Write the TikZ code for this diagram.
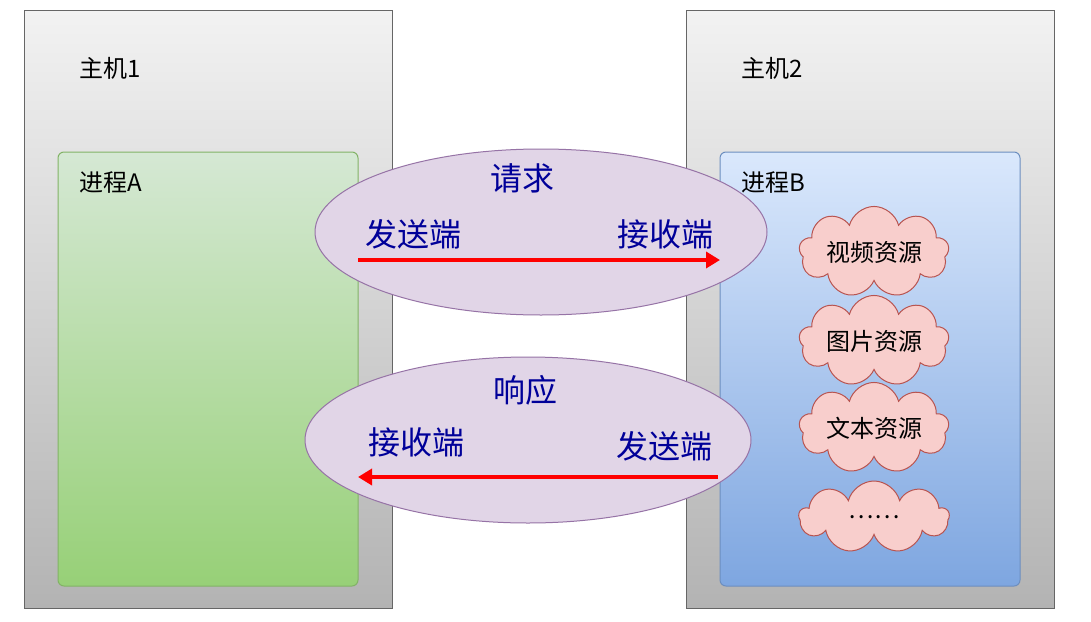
\documentclass[tikz,border=0pt]{standalone}
\usepackage{fontspec}
\setmainfont{Noto Sans CJK SC}
\usetikzlibrary{shapes.geometric,shapes.symbols,arrows.meta}
\definecolor{hostA}{HTML}{F2F2F2}\definecolor{hostB}{HTML}{B3B3B3}
\definecolor{gA}{HTML}{D5E8D4}\definecolor{gB}{HTML}{97D077}\definecolor{gD}{HTML}{82B366}
\definecolor{bA}{HTML}{DAE8FC}\definecolor{bB}{HTML}{7EA6E0}\definecolor{bD}{HTML}{6C8EBF}
\definecolor{eF}{HTML}{E1D5E7}\definecolor{eD}{HTML}{9673A6}
\definecolor{cF}{HTML}{F8CECC}\definecolor{cD}{HTML}{B85450}
\definecolor{txtb}{HTML}{000099}
\tikzset{
 host/.style={draw=black!60,line width=1pt,top color=hostA,bottom color=hostB},
 lbl/.style={font=\fontsize{24}{26}\selectfont,anchor=west},
 big/.style={font=\fontsize{32}{34}\selectfont,text=txtb},
 ell/.style={ellipse,draw=eD,fill=eF,line width=1pt},
 cld/.style={cloud,cloud puffs=9,aspect=2.3,draw=cD,fill=cF,line width=1pt,minimum width=150pt,minimum height=72pt,inner sep=0pt,font=\fontsize{24}{26}\selectfont},
 arr/.style={red,line width=3.5pt,-{Triangle[length=14pt,width=16pt]}}
}
\begin{document}
\begin{tikzpicture}[x=1pt,y=-1pt]
\useasboundingbox (0,0) rectangle (1091,621);
\fill[white] (0,0) rectangle (1091,621);
\draw[host] (24,10) rectangle (392,608);
\draw[host] (686,10) rectangle (1054,608);
\draw[rounded corners=6pt,draw=gD,line width=1pt,top color=gA,bottom color=gB] (58,152) rectangle (358,586);
\draw[rounded corners=6pt,draw=bD,line width=1pt,top color=bA,bottom color=bB] (720,152) rectangle (1020,586);
\node[lbl] (h1) at (76,68) {主机1};
\node[lbl] (h2) at (738,68) {主机2};
\node[lbl] (pa) at (76,183) {进程A};
\node[lbl] (pb) at (738,183) {进程B};
\node[ell,minimum width=452pt,minimum height=166pt] (e1) at (541,232) {};
\node[ell,minimum width=446pt,minimum height=166pt] (e2) at (528,440) {};
\node[big] (q) at (522,178) {请求};
\node[big] (s1) at (413,234) {发送端};
\node[big] (r1) at (665,234) {接收端};
\coordinate (a1s) at (358,260); \coordinate (a1e) at (720,260);
\draw[arr] (a1s) -- (a1e);
\node[big] (x) at (525,390) {响应};
\node[big] (r2) at (416,442) {接收端};
\node[big] (s2) at (664,446) {发送端};
\coordinate (a2s) at (718,477); \coordinate (a2e) at (358,477);
\draw[arr] (a2s) -- (a2e);
\node[cld] (c1) at (874,252) {视频资源};
\node[cld] (c2) at (874,341) {图片资源};
\node[cld] (c3) at (874,428) {文本资源};
\node[cld] (c4) at (874,517) {……};
\end{tikzpicture}
\end{document}
